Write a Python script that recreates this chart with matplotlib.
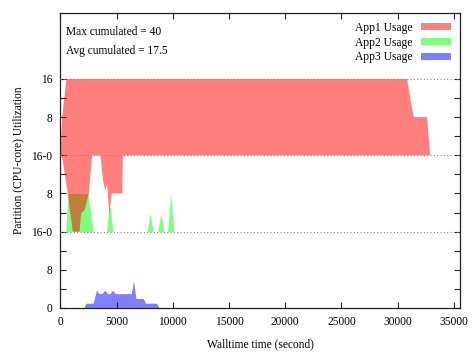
import matplotlib
matplotlib.use("Agg")
import matplotlib.pyplot as plt
from matplotlib.patches import Patch
import numpy as np

# data (time in seconds, usage in cores)
app1_t = [0, 150, 530, 30830, 31420, 32610, 32900]
app1_top = [0, 8, 16, 16, 8, 8, 0]
# lower edge of the app1 area, relative to its panel baseline
app1_low_t = [0, 116, 650, 1095, 1690, 1840, 2140, 2520, 2820, 3550, 3800,
              4000, 4150, 4350, 4550, 5500, 5550, 32900]
app1_low = [0, 0, -8, -16, -16, -12.2, -11.5, -8, 0, 0, -5.5,
            -7.5, -6, -12.5, -8, -8, 0, 0]

app2_t = [0, 450, 700, 2450, 2900, 4100, 4300, 4450, 4650, 7720, 7960, 8250,
          8640, 8940, 9200, 9530, 9800, 10090]
app2_v = [0, 0, 8, 8, 0, 0, 5, 5, 0, 0, 3.8, 0,
          0, 3.8, 0, 0, 7.9, 0]

app3_t = [2100, 2250, 2900, 3200, 3440, 3650, 3950, 4190, 4390, 4630, 4900,
          6300, 6500, 6710, 7360, 7570, 8550, 8790]
app3_v = [0, 1, 1, 3.7, 3, 3, 3.7, 3, 3, 3.7, 3,
          3, 5.7, 2, 2, 1, 1, 0]

labels = ["App1 Usage", "App2 Usage", "App3 Usage"]
colors = ["#ff0000", "#00ff00", "#0000ff"]
offsets = [32, 16, 0]

y_ticks = [0, 4, 8, 12, 16, 20, 24, 28, 32, 36, 40, 44, 48]
y_tick_labels = ["0", "", "8", "", "16-0", "", "8", "", "16-0", "", "8", "", "16"]
x_ticks = [0, 5000, 10000, 15000, 20000, 25000, 30000, 35000]

max_cum = 40
avg_cum = 17.5

plt.rcParams['font.family'] = ['Liberation Serif', 'DejaVu Serif']
plt.rcParams['font.size'] = 8.3

fig = plt.figure(figsize=(4.74, 3.55), dpi=100)
ax = fig.add_axes([0.1276, 0.1324, 0.9705 - 0.1276, 0.9634 - 0.1324])

# bottom panel: app3
ax.fill_between(app3_t, offsets[2], np.array(app3_v) + offsets[2],
                color=colors[2], alpha=0.5, lw=0, zorder=2)
# middle panel: app2
ax.fill_between(app2_t, offsets[1], np.array(app2_v) + offsets[1],
                color=colors[1], alpha=0.5, lw=0, zorder=2)
# top panel: app1 (polygon of upper edge + lower edge reversed)
poly_x = list(app1_t) + list(app1_low_t[::-1])
poly_y = [v + offsets[0] for v in app1_top] + [v + offsets[0] for v in app1_low[::-1]]
ax.fill(poly_x, poly_y, color=colors[0], alpha=0.5, lw=0, zorder=3)

for yy in [16, 32, 48]:
    ax.axhline(yy, color="#888888", ls=(0, (1, 2)), lw=0.8, zorder=4)

ax.set_xlim(0, 35550)
ax.set_ylim(0, 61.8)
ax.set_xticks(x_ticks)
ax.set_yticks(y_ticks)
ax.set_yticklabels(y_tick_labels)
ax.tick_params(direction="in", top=True, right=True, length=4, width=0.8,
               color="#222222", pad=6)
for s in ax.spines.values():
    s.set_linewidth(0.9)
    s.set_color("#222222")

ax.set_xlabel("Walltime time (second)", labelpad=7)
ax.set_ylabel("Partition (CPU-core) Utilization", labelpad=5)

ax.text(0.013, 0.935, f"Max cumulated = {max_cum}", transform=ax.transAxes, va="center")
ax.text(0.013, 0.87, f"Avg cumulated = {avg_cum}", transform=ax.transAxes, va="center")

handles = [Patch(facecolor=c, alpha=0.5, lw=0) for c in colors]
ax.legend(handles, labels, loc="upper right", frameon=False, markerfirst=False,
          handlelength=2.6, handleheight=0.65, labelspacing=0.25,
          borderaxespad=0.35, handletextpad=0.8)

fig.savefig("out.png", dpi=100)
